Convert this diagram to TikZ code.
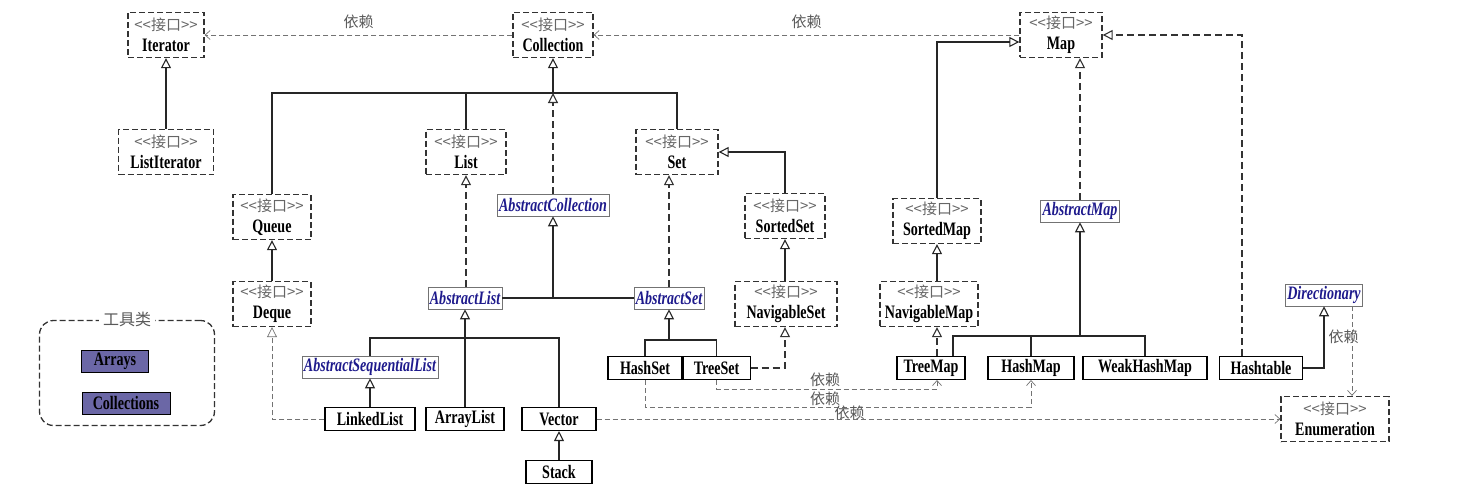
\documentclass[tikz,border=0pt]{standalone}
\usepackage{fontspec}
\setmainfont{Liberation Serif}[FakeStretch=0.74]
\newfontfamily\cjk{Noto Sans CJK SC}
\usetikzlibrary{arrows.meta,positioning}
\definecolor{abl}{HTML}{1E1A8C}
\definecolor{tool}{HTML}{6B67A6}
\begin{document}
\begin{tikzpicture}[x=1pt,y=-1pt,
  every node/.style={font=\fontsize{19}{21}\selectfont},
  iface/.style={draw=black!80,line width=1.3pt,dash pattern=on 6pt off 3pt,align=center,inner sep=1pt,minimum height=45pt,text width=#1,font=\fontsize{19}{21}\selectfont},
  iface/.default=74pt,
  abs/.style={draw=black!55,line width=0.6pt,inner sep=2pt,minimum height=22pt,font=\fontsize{19}{21}\selectfont\bfseries\itshape,text=abl},
  cls/.style={draw=black,line width=1.1pt,inner sep=2pt,minimum height=23pt,font=\fontsize{19}{21}\selectfont\bfseries},
  tri/.style={-{Triangle[open,length=10pt,width=10pt]}},
  inh/.style={tri,line width=1.1pt,black!85},
  impl/.style={tri,line width=1.1pt,black!80,dash pattern=on 7pt off 4pt},
  dep/.style={-{Straight Barb[length=5pt,width=9pt]},line width=0.7pt,black!55,dash pattern=on 5pt off 3pt},
  lbl/.style={font=\cjk\fontsize{15}{17}\selectfont,text=black!65,inner sep=1pt}]
\newcommand{\ifc}[1]{{\cjk\color{black!60}\fontsize{15}{17}\selectfont<<接口>>}\\\textbf{#1}}
\useasboundingbox (0,0) rectangle (1482,495);
% interfaces
\node[iface] (iter) at (166,35) {\ifc{Iterator}};
\node[iface=78pt] (coll) at (553,35) {\ifc{Collection}};
\node[iface=80pt] (map) at (1061,35) {\ifc{Map}};
\node[iface=93pt] (liter) at (166,152) {\ifc{ListIterator}};
\node[iface=78pt] (list) at (466,152) {\ifc{List}};
\node[iface=80pt] (set) at (677,152) {\ifc{Set}};
\node[iface=76pt] (queue) at (272,217) {\ifc{Queue}};
\node[iface=78pt] (sset) at (785,216) {\ifc{SortedSet}};
\node[iface=86pt] (smap) at (937,221) {\ifc{SortedMap}};
\node[iface=76pt] (deque) at (272,304) {\ifc{Deque}};
\node[iface=100pt] (nset) at (786,304) {\ifc{NavigableSet}};
\node[iface=96pt] (nmap) at (929,304) {\ifc{NavigableMap}};
\node[iface=106pt] (enum) at (1335,419) {\ifc{Enumeration}};
% abstract
\node[abs] (ac) at (553,205) {AbstractCollection};
\node[abs] (amap) at (1080,211) {AbstractMap};
\node[abs] (alist) at (465,298) {AbstractList};
\node[abs] (aset) at (669,298) {AbstractSet};
\node[abs] (dict) at (1324,295) {Directionary};
\node[abs] (asl) at (370,367) {AbstractSequentialList};
% classes
\node[cls,minimum width=74pt] (hset) at (645,368) {HashSet};
\node[cls,anchor=west,minimum width=67pt] (tset) at (hset.east) {TreeSet};
\node[cls,minimum width=68pt] (tmap) at (931,368) {TreeMap};
\node[cls,minimum width=86pt] (hmap) at (1031,368) {HashMap};
\node[cls,minimum width=124pt] (whm) at (1145,368) {WeakHashMap};
\node[cls,minimum width=83pt] (htab) at (1261,368) {Hashtable};
\node[cls,minimum width=90pt] (llist) at (370,419) {LinkedList};
\node[cls,minimum width=78pt] (alst) at (465,419) {ArrayList};
\node[cls,minimum width=74pt] (vec) at (559,419) {Vector};
\node[cls,minimum width=66pt] (stack) at (559,472) {Stack};
% tool box
\node[draw=black!80,line width=1.3pt,dash pattern=on 6pt off 3pt,rounded corners=14pt,minimum width=175pt,minimum height=105pt] (tbox) at (127,373) {};
\node[lbl,fill=white,inner sep=4pt,font=\cjk\fontsize{16}{18}\selectfont] (ttl) at (tbox.north) {工具类};
\node[cls,fill=tool,line width=0.8pt,text=black,minimum width=67pt,minimum height=22pt] (arr) at (115,361) {Arrays};
\node[cls,fill=tool,line width=0.8pt,text=black,minimum width=88pt,minimum height=22pt] (colls) at (126,403) {Collections};
% coordinates
\coordinate (cbus) at (553,93);
\coordinate (lbus) at (465,338);
\coordinate (sbus) at (669,340);
\coordinate (mbus) at (1080,336);
% top dependencies
\draw[dep] (coll.west) -- node[lbl,above=5pt]{依赖} (iter.east);
\draw[dep] (map.west |- coll.east) -- node[lbl,above=5pt]{依赖} (coll.east);
\draw[inh] (liter.north) -- (iter.south);
% collection tree
\draw[line width=1.1pt,black!85] (queue.north) |- (cbus) -| (set.north);
\draw[line width=1.1pt,black!85] (list.north) -- (list.north |- cbus);
\draw[inh] (cbus) -- (coll.south);
\draw[impl] (ac.north) -- (cbus);
\draw[impl] (alist.north -| list.south) -- (list.south);
\draw[impl] (aset.north) -- (aset.north |- set.south);
\draw[line width=1.1pt,black!85] (alist.east) -- (aset.west);
\draw[inh] (ac.south |- alist.east) -- (ac.south);
\draw[inh] (deque.north) -- (queue.south);
\draw[impl,black!55,line width=0.7pt,dash pattern=on 5pt off 3pt] (llist.west) -| (deque.south);
\draw[inh] (sset.north) |- (set.east);
\draw[inh] (nset.north -| sset.south) -- (sset.south);
\draw[impl] (tset.east) -| (nset.south -| sset.south);
% abstract set
\draw[inh] (sbus) -- (aset.south);
\draw[line width=1.1pt,black!85] (hset.north) |- (sbus) -| (tset.north);
% abstract list
\draw[inh] (lbus) -- (alist.south);
\draw[line width=1.1pt,black!85] (asl.north) |- (lbus) -| (vec.north);
\draw[line width=1.1pt,black!85] (alst.north) -- (lbus);
\draw[inh] (llist.north) -- (asl.south);
\draw[inh] (stack.north) -- (vec.south);
% maps
\draw[inh] (smap.north) |- ([yshift=-7pt]map.west);
\draw[inh] (nmap.north -| smap.south) -- (smap.south);
\draw[impl] (tmap.north -| smap.south) -- (nmap.south -| smap.south);
\draw[impl] (amap.north) -- (amap.north |- map.south);
\draw[inh] (mbus) -- (amap.south);
\draw[line width=1.1pt,black!85] ([xshift=22pt]tmap.north) |- (mbus) -| (whm.north);
\draw[line width=1.1pt,black!85] (hmap.north) -- (hmap.north |- mbus);
\draw[impl] ([xshift=-19pt]htab.north) |- (map.east);
\draw[inh] (htab.east) -| node[lbl,pos=0.75,right=3pt]{依赖} (dict.south);
\draw[dep] ([xshift=28pt]dict.south) -- ([xshift=28pt]dict.south |- enum.north);
% bottom dependencies
\draw[dep] (tset.south) |- (825,389) node[lbl,above=1pt]{依赖} -| (tmap.south -| smap.south);
\draw[dep] (hset.south) |- (825,407) node[lbl,above=0pt]{依赖} -| (hmap.south);
\draw[dep] (vec.east) -- node[lbl,pos=0.37,above=-2pt]{依赖} (enum.west);
\end{tikzpicture}
\end{document}
